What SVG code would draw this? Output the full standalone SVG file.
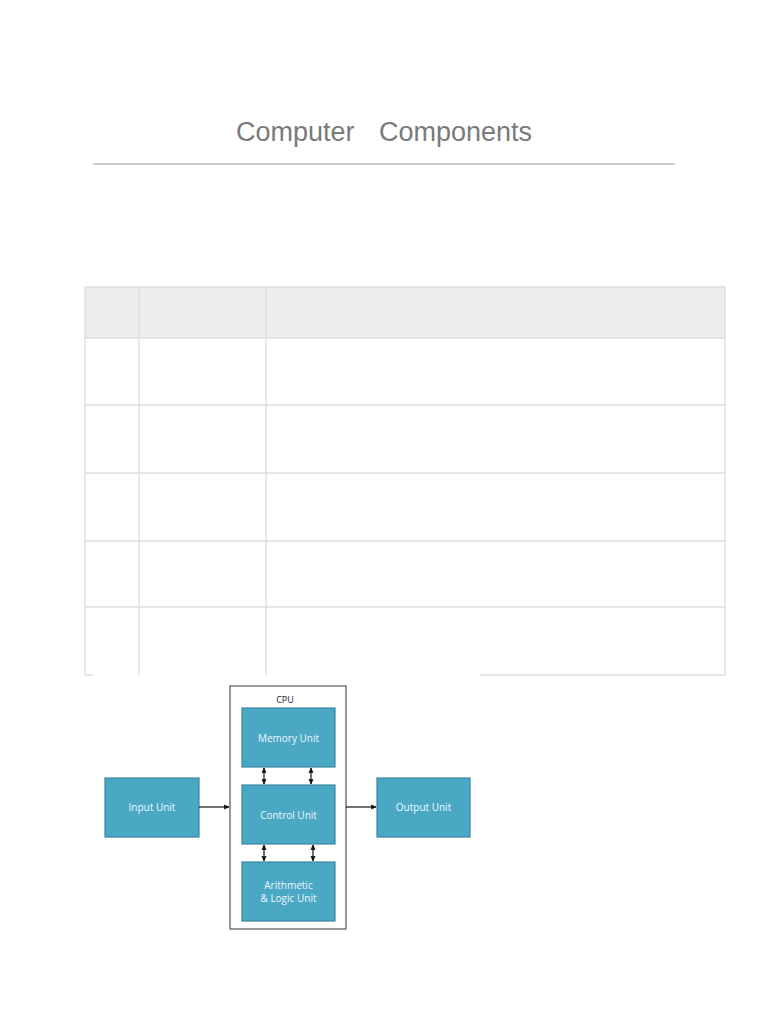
<svg xmlns="http://www.w3.org/2000/svg" width="768" height="1024" viewBox="0 0 768 1024">
<defs>
<style>
.title{font-family:"Liberation Sans",Arial,sans-serif;font-size:27px;fill:#7a7a7a}
.grid{stroke:#dddddd;stroke-width:1.3;fill:none}
.box{fill:#4aa8c5;stroke:#3a86a0;stroke-width:1.2}
.lbl{font-family:"Open Sans","DejaVu Sans",sans-serif;font-size:10px;fill:#eef8fb;text-anchor:middle}
.cpu{fill:#ffffff;stroke:#5a6468;stroke-width:1.3}
.con{stroke:#111111;stroke-width:1.2;fill:none}
</style>
<marker id="ah" viewBox="0 0 10 10" refX="9" refY="5" markerWidth="6" markerHeight="6" orient="auto-start-reverse" markerUnits="userSpaceOnUse">
<path d="M1,1.5 L9,5 L1,8.5 Z" fill="#111" stroke="#111" stroke-width="1"/>
</marker>
</defs>
<rect width="768" height="1024" fill="#ffffff"/>
<g id="title">
<text class="title" x="236" y="141">Computer</text>
<text class="title" x="379" y="141">Components</text>
<line x1="93" y1="164" x2="675" y2="164" stroke="#bbbbbb" stroke-width="1.5"/>
</g>
<g id="table">
<rect x="85" y="287" width="640" height="51" fill="#eeeeee"/>
<path class="grid" d="M85,675 V287 H725 V675 M85,338 H725 M85,405 H725 M85,473 H725 M85,541 H725 M85,607 H725 M139,287 V675 M266,287 V675 M85,675 H93 M480,675 H725"/>
</g>
<g id="cpu">
<rect class="cpu" x="230" y="686" width="116" height="243"/>
<text x="285" y="703" font-family="'Open Sans','DejaVu Sans',sans-serif" font-size="9" fill="#222" text-anchor="middle">CPU</text>
</g>
<g id="memory-unit">
<rect class="box" x="242" y="708" width="93" height="59"/>
<text class="lbl" x="288.5" y="741.5">Memory Unit</text>
</g>
<g id="control-unit">
<rect class="box" x="242" y="785" width="93" height="59"/>
<text class="lbl" x="288.5" y="818.5">Control Unit</text>
</g>
<g id="alu">
<rect class="box" x="242" y="862" width="93" height="59"/>
<text class="lbl" x="288.5" y="888.5">Arithmetic</text>
<text class="lbl" x="288.5" y="902">&amp; Logic Unit</text>
</g>
<g id="input-unit">
<rect class="box" x="105" y="778" width="94" height="59"/>
<text class="lbl" x="152" y="811">Input Unit</text>
</g>
<g id="output-unit">
<rect class="box" x="377" y="778" width="93" height="59"/>
<text class="lbl" x="423.5" y="811">Output Unit</text>
</g>
<g id="connectors">
<line class="con" x1="199" y1="807" x2="229" y2="807" marker-end="url(#ah)"/>
<line class="con" x1="346" y1="807" x2="376" y2="807" marker-end="url(#ah)"/>
<line class="con" x1="264" y1="768" x2="264" y2="784" marker-start="url(#ah)" marker-end="url(#ah)"/>
<line class="con" x1="311" y1="768" x2="311" y2="784" marker-start="url(#ah)" marker-end="url(#ah)"/>
<line class="con" x1="264" y1="845" x2="264" y2="861" marker-start="url(#ah)" marker-end="url(#ah)"/>
<line class="con" x1="313" y1="845" x2="313" y2="861" marker-start="url(#ah)" marker-end="url(#ah)"/>
</g>
</svg>
